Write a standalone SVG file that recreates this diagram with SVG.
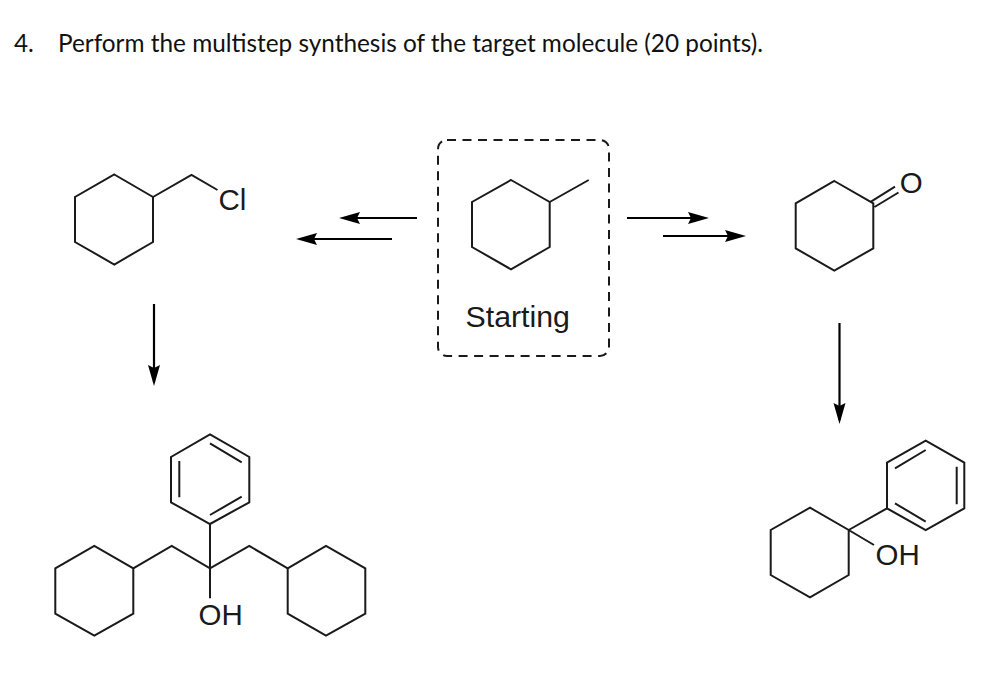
<svg xmlns="http://www.w3.org/2000/svg" width="995" height="687" viewBox="0 0 995 687">
<style>
.b{fill:none;stroke:#1a1a1a;stroke-width:2;stroke-linejoin:miter;stroke-linecap:butt}
.a{fill:none;stroke:#000;stroke-width:2.2}
.l{font-family:"Liberation Sans",Arial,sans-serif;font-size:29.5px;fill:#1a1a1a}
.t{font-family:Lato,"Open Sans",sans-serif;font-size:24.35px;fill:#111}
</style>
<defs>
<marker id="h" markerUnits="userSpaceOnUse" markerWidth="22" markerHeight="14" refX="17" refY="6.5" orient="auto">
<path d="M0 0.5L21 6.5L0 12.5L3 6.5Z" fill="#000"/>
</marker>
</defs>
<rect width="995" height="687" fill="#fff"/>
<g id="title">
<text class="t" x="14" y="52">4.</text>
<text class="t" x="58" y="52">Perform the multistep synthesis of the target molecule (20 points).</text>
</g>
<g id="connectors">
<line class="a" x1="417" y1="218" x2="343" y2="218" marker-end="url(#h)"/>
<line class="a" x1="392" y1="239" x2="300" y2="239" marker-end="url(#h)"/>
<line class="a" x1="627" y1="218" x2="705" y2="218" marker-end="url(#h)"/>
<line class="a" x1="663" y1="236" x2="742" y2="236" marker-end="url(#h)"/>
<line class="a" x1="154" y1="304" x2="154" y2="382" marker-end="url(#h)"/>
<line class="a" x1="839.5" y1="323" x2="839.5" y2="420" marker-end="url(#h)"/>
</g>
<g id="chloride">
<path class="b" d="M114.3 174.5L153 197V242L114.3 264.5L75 242V197ZM153 197L191.5 175L217.5 190"/>
<text class="l" x="218.5" y="209.5">Cl</text>
</g>
<g id="starting">
<rect x="438" y="140" width="171" height="216" rx="9" fill="none" stroke="#1a1a1a" stroke-width="2" stroke-dasharray="9 6.5"/>
<path class="b" d="M511 180L549.7 202V247L511 269.3L472 247V202ZM549.7 202L588.7 180"/>
<text class="l" x="465.5" y="326.5" style="font-size:30.3px">Starting</text>
</g>
<g id="ketone">
<path class="b" d="M834.3 181L873.3 203.3V248.3L834.3 270.7L795.7 248.3V203.3ZM871 201.7L895 186.7M874.5 207L898.5 192.5"/>
<text class="l" x="899.8" y="193">O</text>
</g>
<g id="tertiary-alcohol">
<path class="b" d="M210 434.3L249.3 457V502.3L210 524L171 502.3V457ZM210 443.3L241.7 462.3M179.3 461V497.3M210 515L241.7 496.7"/>
<path class="b" d="M210 524V598.3M133.3 568.3L171.7 546L210 568.3L249.3 546L287.7 568.3"/>
<path class="b" d="M133.3 568.3V613.7L94.3 635.7L55.3 613.7V568.3L94.3 546Z"/>
<path class="b" d="M287.7 568.3L326 546L365.3 568.3V613.7L326 635.7L287.7 613.7Z"/>
<text class="l" x="198.5" y="625">OH</text>
</g>
<g id="phenylcyclohexanol">
<path class="b" d="M810 507.7L848.7 530V575L810 597.3L770.7 575V530ZM848.7 530L887 508.3M848.7 530L874 545"/>
<path class="b" d="M887 508.3V462.7L925.7 440.7L964.3 462.7V508.3L925.7 530ZM895 468.3L925.7 450M956.7 466.7V504.3M895 503.3L925.7 521.7"/>
<text class="l" x="875.5" y="564.5">OH</text>
</g>
</svg>
